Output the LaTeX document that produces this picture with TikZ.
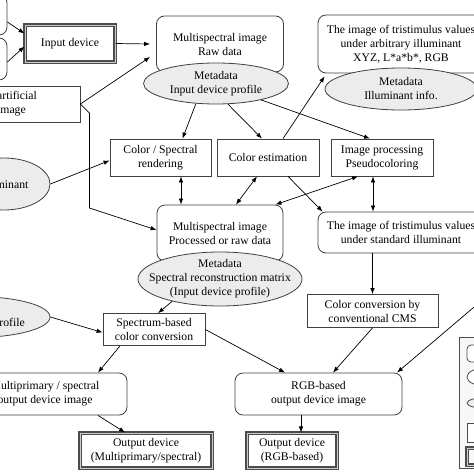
\documentclass[tikz,border=0pt]{standalone}
\usepackage{fontspec}
\setmainfont{Liberation Serif}
\usetikzlibrary{arrows.meta,shapes.geometric}

\tikzset{
    flowtxt/.style={font=\fontsize{11.7}{14}\selectfont, align=center, inner sep=0pt},
    roundbox/.style={flowtxt, shape=rectangle, rounded corners=8pt, draw=black!75, line width=0.8pt, fill=white},
    plainbox/.style={flowtxt, shape=rectangle, draw=black!75, line width=0.8pt, fill=white},
    devbox/.style={flowtxt, shape=rectangle, draw=black!70, line width=1.1pt, double=gray!40, double distance=0.9pt},
    metaell/.style={flowtxt, shape=ellipse, inner xsep=-14pt, inner ysep=-3pt, draw=black!75, line width=0.8pt, fill=gray!15},
    flow/.style={color=black, line width=0.7pt, arrows={-Latex[length=6pt,width=4.5pt]}},
    twoway/.style={color=black, line width=0.7pt, arrows={Latex[length=6pt,width=4.5pt]-Latex[length=6pt,width=4.5pt]}},
}

\begin{document}
\begin{tikzpicture}[x=1pt, y=-1pt]
    \useasboundingbox (0,0) rectangle (474,474);
    % Define the layers library
    \pgfdeclarelayer{1}
    \pgfsetlayers{main,1}

    % Input side
    \node[roundbox, minimum width=94, minimum height=40] (src1) at ({-40}, {15}) {};
    \node[roundbox, minimum width=94, minimum height=42] (src2) at ({-40}, {59}) {};
    \node[devbox, minimum width=90, minimum height=37] (indev) at ({70}, {43.5}) {Input device};
    \node[plainbox, minimum width=140, minimum height=36] (art) at ({10}, {104}) {};
    \node[flowtxt, anchor=west, align=left] (arttext) at ({-3}, {104}) {artificial\\image};
    \node[metaell, minimum width=92, minimum height=52] (illum) at ({4}, {184}) {Illuminant};
    \node[metaell, minimum width=150, minimum height=41] (prof) at ({-25}, {317}) {};
    \node[flowtxt, anchor=east] (proftext) at ({25}, {324}) {profile};

    % Multispectral images
    \node[roundbox, minimum width=127, minimum height=56] (msraw) at ({220}, {44}) {Multispectral image\\Raw data};
    \node[metaell, minimum width=145, minimum height=41] (meta1) at ({216}, {83.5}) {Metadata\\Input device profile};
    \node[roundbox, minimum width=126, minimum height=56] (msproc) at ({220}, {233}) {Multispectral image\\Processed or raw data};
    \node[metaell, minimum width=164, minimum height=54] (meta3) at ({220}, {279}) {Metadata\\Spectral reconstruction matrix\\(Input device profile)};

    % Processing
    \node[plainbox, minimum width=101, minimum height=37] (render) at ({160.5}, {157.5}) {Color / Spectral\\rendering};
    \node[plainbox, minimum width=102, minimum height=37] (estim) at ({268}, {157.5}) {Color estimation};
    \node[plainbox, minimum width=102, minimum height=37] (improc) at ({382}, {157.5}) {Image processing\\Pseudocoloring};

    % Tristimulus images
    \node[roundbox, minimum width=166, minimum height=58] (arb) at ({401}, {44}) {The image of tristimulus values\\under arbitrary illuminant\\XYZ, L*a*b*, RGB};
    \node[metaell, minimum width=152, minimum height=42] (meta2) at ({401}, {89}) {Metadata\\Illuminant info.};
    \node[roundbox, minimum width=166, minimum height=41] (std) at ({401}, {232.5}) {The image of tristimulus values\\under standard illuminant};
    \node[plainbox, minimum width=131, minimum height=33] (cms) at ({372.5}, {311}) {Color conversion by\\conventional CMS};

    % Output side
    \node[plainbox, minimum width=102, minimum height=32] (spec) at ({154}, {329.5}) {Spectrum-based\\color conversion};
    \node[roundbox, minimum width=164, minimum height=42] (mpimg) at ({45}, {394}) {Multiprimary / spectral\\output device image};
    \node[roundbox, minimum width=167, minimum height=42] (rgbimg) at ({318.5}, {394}) {RGB-based\\output device image};
    \node[devbox, minimum width=132, minimum height=35] (mpout) at ({146}, {450.5}) {Output device\\(Multiprimary/spectral)};
    \node[devbox, minimum width=90, minimum height=35] (rgbout) at ({292}, {450.5}) {Output device\\(RGB-based)};
    \coordinate (ext) at ({480}, {302});

    % Legend
    \draw[draw=black!70, line width=0.8pt, fill=gray!6] (459,337) rectangle (492,468);
    \draw[draw=black!70, line width=0.8pt, fill=white, rounded corners=4pt] (467,345) rectangle (497,362);
    \draw[draw=black!70, line width=0.8pt, fill=white] (485,377) ellipse [x radius=18pt, y radius=9pt];
    \draw[draw=black!70, line width=0.8pt, fill=gray!15] (487,403) ellipse [x radius=20pt, y radius=5.5pt];
    \draw[draw=black!70, line width=0.8pt, fill=white] (467,423) rectangle (497,442);
    \draw[draw=black!70, line width=1.1pt, double=gray!40, double distance=0.9pt] (467,448) rectangle (497,465);

    % Connectors
    \begin{pgfonlayer}{1}
        \draw[flow] ([yshift=-7pt]src1.east) to ([yshift=10pt]indev.west);
        \draw[flow] ([yshift=-3pt]src2.east) to ([yshift=-3pt]indev.west);
        \draw[flow] (indev.east) to ([xshift=-6pt]msraw.west);
        \draw[flow] (art.east) to ([xshift=-6pt, yshift=-13pt]msraw.west);
        \draw[flow] (art.east) -- ++(9,9) -- ++(0,95) -- ([yshift=3pt]msproc.west);
        \draw[flow] (illum.east) to ([yshift=-3pt]render.west);
        \draw[flow] (meta1.-135) to ([xshift=22pt]render.north);
        \draw[flow] (meta1.-60) to ([xshift=-6pt]estim.north);
        \draw[flow] (meta1.-20) to ([xshift=-12pt]improc.north);
        \draw[flow] ([xshift=15pt]estim.north) to ([xshift=7pt, yshift=-3pt]arb.south west);
        \draw[twoway] ([xshift=20.5pt]render.south) to ([xshift=20.5pt]render.south |- msproc.north);
        \draw[twoway] ([xshift=-11pt]estim.south) to ([xshift=16pt]msproc.north);
        \draw[twoway] ([xshift=-24pt]improc.south) to ([xshift=-8pt]msproc.north east);
        \draw[flow] ([xshift=20pt]estim.south) to ([xshift=5pt]std.north west);
        \draw[twoway] ([xshift=-9pt]improc.south) to ([xshift=-9pt]improc.south |- std.north);
        \draw[flow] (cms.north |- std.south) to (cms.north);
        \draw[flow] (meta3.-155) to ([xshift=4pt]spec.north);
        \draw[flow] (prof.east) to ([yshift=-3pt]spec.west);
        \draw[flow] ([xshift=-34pt]spec.south) to ([xshift=53pt]mpimg.north);
        \draw[flow] (spec.east) to ([xshift=-33.5pt]rgbimg.north);
        \draw[flow] (cms.south) to ([xshift=14.5pt]rgbimg.north);
        \draw[flow] (ext) to ([xshift=78.5pt]rgbimg.north);
        \draw[flow] ([xshift=53pt]mpimg.south) to ([xshift=-21pt]mpout.north);
        \draw[flow] ([xshift=-17.5pt]rgbimg.south) to ([xshift=-17.5pt]rgbimg.south |- rgbout.north);
    \end{pgfonlayer}
\end{tikzpicture}
\end{document}
